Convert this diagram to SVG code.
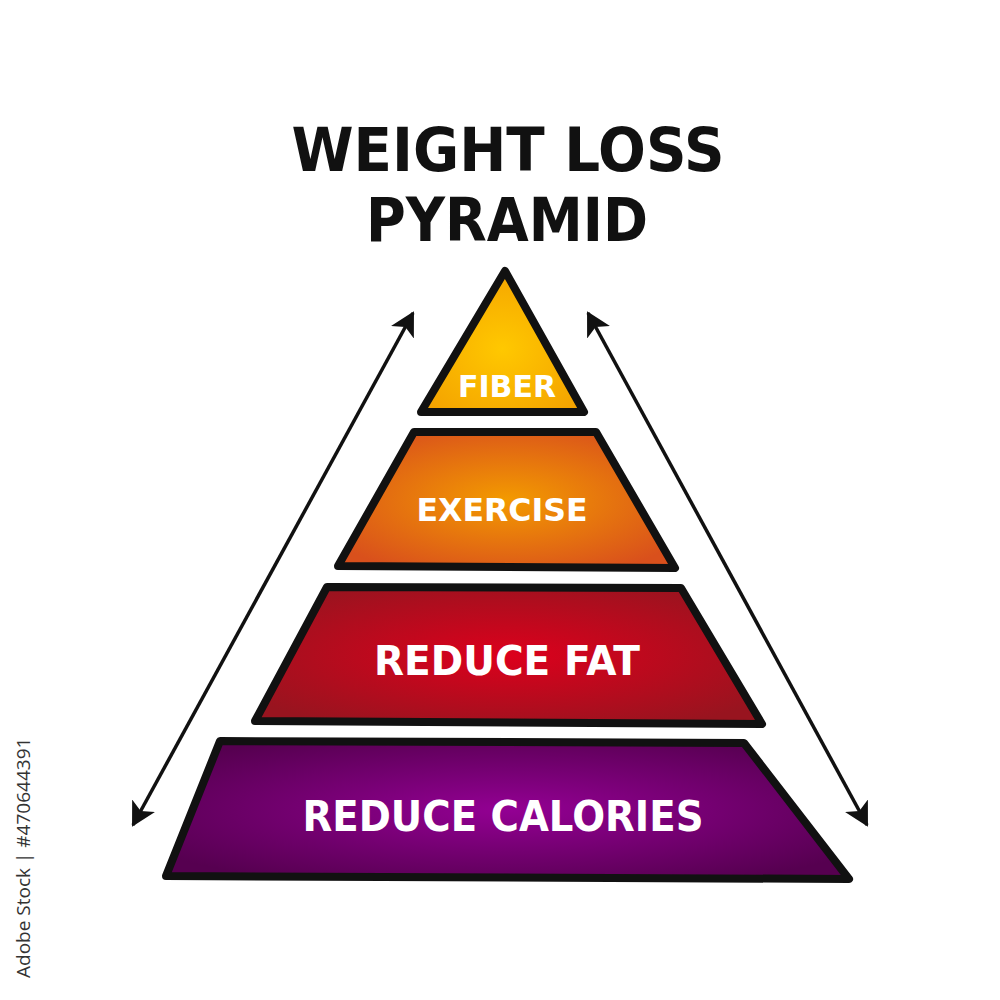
<svg xmlns="http://www.w3.org/2000/svg" width="1000" height="1000" viewBox="0 0 1000 1000">
<defs>
<radialGradient id="gY" cx="0.5" cy="0.55" r="0.6"><stop offset="0" stop-color="#ffc800"/><stop offset="1" stop-color="#f4a300"/></radialGradient>
<radialGradient id="gO" cx="0.5" cy="0.5" r="0.6"><stop offset="0" stop-color="#f39a00"/><stop offset="1" stop-color="#d9501c"/></radialGradient>
<radialGradient id="gR" cx="0.5" cy="0.5" r="0.6"><stop offset="0" stop-color="#dc001c"/><stop offset="1" stop-color="#98141f"/></radialGradient>
<radialGradient id="gP" cx="0.5" cy="0.5" r="0.6"><stop offset="0" stop-color="#930093"/><stop offset="1" stop-color="#560050"/></radialGradient>
<marker id="ah" viewBox="0 0 24 34" refX="22" refY="17" markerWidth="24" markerHeight="34" markerUnits="userSpaceOnUse" orient="auto-start-reverse">
<path d="M0,4 L24,17 L0,30 L6,17 Z" fill="#111"/>
</marker>
</defs>
<style>
.tier{stroke:#111;stroke-width:8;stroke-linejoin:round}
.lbl{fill:#fff;font-family:"DejaVu Sans",sans-serif;font-weight:bold;text-anchor:middle}
.ttl{fill:#111;font-family:"DejaVu Sans",sans-serif;font-weight:bold;text-anchor:middle}
.arr{stroke:#111;stroke-width:3.5;fill:none}
</style>
<rect width="1000" height="1000" fill="#fff"/>
<g id="title">
<text class="ttl" x="508" y="171" font-size="60" textLength="433" lengthAdjust="spacingAndGlyphs">WEIGHT LOSS</text>
<text class="ttl" x="507" y="241" font-size="60" textLength="282" lengthAdjust="spacingAndGlyphs">PYRAMID</text>
</g>
<g id="connectors">
<line class="arr" x1="413" y1="313" x2="133" y2="825" marker-start="url(#ah)" marker-end="url(#ah)"/>
<line class="arr" x1="588" y1="313" x2="867" y2="825" marker-start="url(#ah)" marker-end="url(#ah)"/>
</g>
<g id="fiber">
<polygon class="tier" fill="url(#gY)" points="505,271 584,412 421,412"/>
<text class="lbl" x="507" y="397" font-size="30" textLength="98" lengthAdjust="spacingAndGlyphs">FIBER</text>
</g>
<g id="exercise">
<polygon class="tier" fill="url(#gO)" points="414,432 596,432 675,568 338,566"/>
<text class="lbl" x="502" y="521" font-size="32" textLength="171" lengthAdjust="spacingAndGlyphs">EXERCISE</text>
</g>
<g id="reduce-fat">
<polygon class="tier" fill="url(#gR)" points="327,587 681,588 762,724 255,721"/>
<text class="lbl" x="507" y="675" font-size="40" textLength="266" lengthAdjust="spacingAndGlyphs">REDUCE FAT</text>
</g>
<g id="reduce-calories">
<polygon class="tier" fill="url(#gP)" points="220,741 744,743 849,879 166,876"/>
<text class="lbl" x="503" y="831" font-size="42" textLength="401" lengthAdjust="spacingAndGlyphs">REDUCE CALORIES</text>
</g>
<text x="30" y="978" transform="rotate(-90 30 978)" font-family="Open Sans,sans-serif" font-size="19" fill="#333">Adobe Stock | #470644391</text>
</svg>
